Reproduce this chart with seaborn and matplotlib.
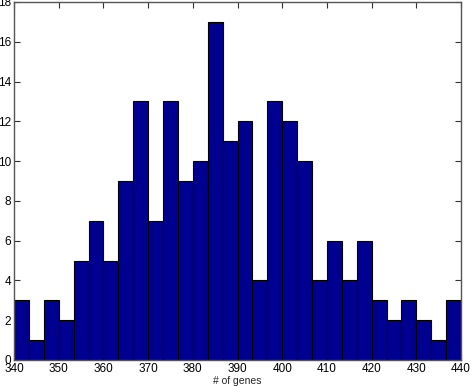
import matplotlib
matplotlib.use("Agg")
import matplotlib.pyplot as plt
import seaborn as sns
import numpy as np

# Data
bin_edges_range = (340, 440)
n_bins = 30
counts = [3, 1, 3, 2, 5, 7, 5, 9, 13, 7, 13, 9, 10, 17, 11,
          12, 4, 13, 12, 10, 4, 6, 4, 6, 3, 2, 3, 2, 1, 3]
x_ticks = [340, 350, 360, 370, 380, 390, 400, 410, 420, 430, 440]
y_ticks = [0, 2, 4, 6, 8, 10, 12, 14, 16, 18]
x_label = "# of genes"

width = (bin_edges_range[1] - bin_edges_range[0]) / n_bins
centers = [bin_edges_range[0] + width * (i + 0.5) for i in range(n_bins)]

sns.set_style("white")
plt.rcParams['font.family'] = ['Liberation Sans', 'DejaVu Sans']

fig = plt.figure(figsize=(4.74, 3.87), dpi=100)
ax = fig.add_axes([14 / 474, 1 - 360 / 387, (461 - 14) / 474, (360 - 2) / 387])

sns.histplot(x=centers, weights=counts, bins=n_bins, binrange=bin_edges_range,
             color="#000090", edgecolor="black", linewidth=0.8, alpha=1.0, ax=ax)

ax.set_xlim(340, 440)
ax.set_ylim(0, 18)
ax.set_xticks(x_ticks)
ax.set_yticks(y_ticks)
ax.set_xlabel(x_label, fontsize=7.5, labelpad=1)
ax.set_ylabel("")
ax.tick_params(direction="in", length=4, width=0.8, labelsize=8.5, pad=2,
               top=True, right=True, bottom=True, left=True, colors="#333333",
               labelcolor="black")
for s in ax.spines.values():
    s.set_visible(True)
    s.set_color("#555555")
    s.set_linewidth(1.0)

fig.savefig("out.png", dpi=100)
